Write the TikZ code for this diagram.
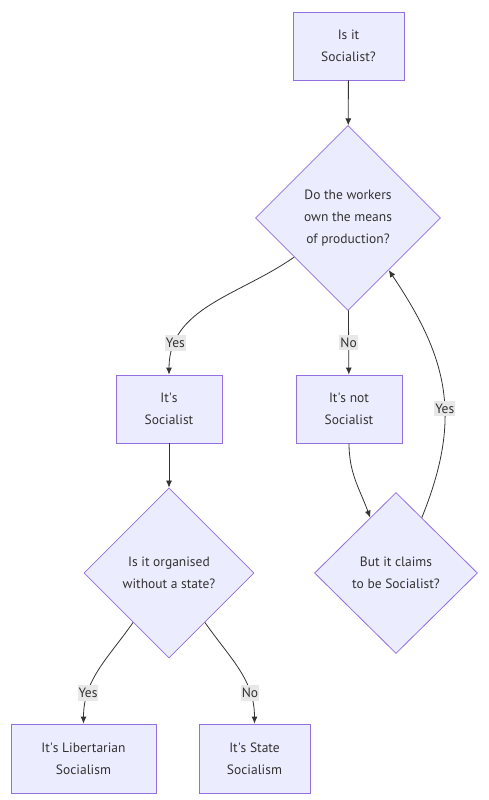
\documentclass[tikz,border=0pt]{standalone}
\usepackage{fontspec}
\setmainfont{PT Sans}
\usepackage{xcolor}
\usepackage{tikz}
\usetikzlibrary{arrows.meta,shapes.geometric}

\definecolor{nodefill}{HTML}{ECECFF}
\definecolor{nodeline}{HTML}{9370DB}
\definecolor{edgeline}{HTML}{333333}
\definecolor{lblfill}{HTML}{E8E8E8}

\begin{document}
\begin{tikzpicture}[x=1pt,y=1pt,
		every node/.style={font=\fontsize{13.5}{22}\selectfont,text=edgeline,align=center},
		box/.style={draw=nodeline,fill=nodefill,line width=0.8pt,minimum height=68pt,inner sep=0pt},
		choice/.style={diamond,draw=nodeline,fill=nodefill,line width=0.8pt,inner sep=0pt},
		lbl/.style={fill=lblfill,inner xsep=1pt,inner ysep=3pt}]
		\useasboundingbox (0,0) rectangle (488,-800);
		\node[box,minimum width=111pt] (Q) at (348.5,-46) {Is it\\Socialist?};
		\node[choice,minimum width=185pt,minimum height=185pt] (W) at (348,-218) {Do the workers\\own the means\\of production?};
		\node[box,minimum width=106pt] (S) at (169,-409) {It\textquotesingle s\\Socialist};
		\node[box,minimum width=106pt] (N) at (349,-409) {It\textquotesingle s not\\Socialist};
		\node[choice,minimum width=170pt,minimum height=170pt] (O) at (169,-573) {Is it organised\\without a state?};
		\node[choice,minimum width=163pt,minimum height=161pt] (C) at (396,-573) {But it claims\\to be Socialist?};
		\node[box,minimum width=145pt,minimum height=69pt] (L) at (83.5,-758.5) {It\textquotesingle s Libertarian\\Socialism};
		\node[box,minimum width=111pt,minimum height=69pt] (T) at (254.5,-758.5) {It\textquotesingle s State\\Socialism};
		%
		\path[->,>={Latex[length=7pt,width=6pt]},every edge/.append style={draw=edgeline,line width=0.8pt}]
		% straight arrows
		(Q) edge (W)
		(W) edge node[lbl]{No} (N)
		(S) edge (O)
		% curved arrows
		(W.-144) edge[out=-145,in=90] node[lbl,pos=0.82]{Yes} (S.north)
		(N.south) edge[out=-90,in=110] (C.115)
		(C.65) edge[out=68,in=-56,looseness=1.1] node[lbl,pos=0.42]{Yes} (W.-52)
		(O.-126) edge[out=-125,in=90] node[lbl,pos=0.74]{Yes} (L.north)
		(O.-54) edge[out=-55,in=90] node[lbl,pos=0.74]{No} (T.north);
\end{tikzpicture}
\end{document}
